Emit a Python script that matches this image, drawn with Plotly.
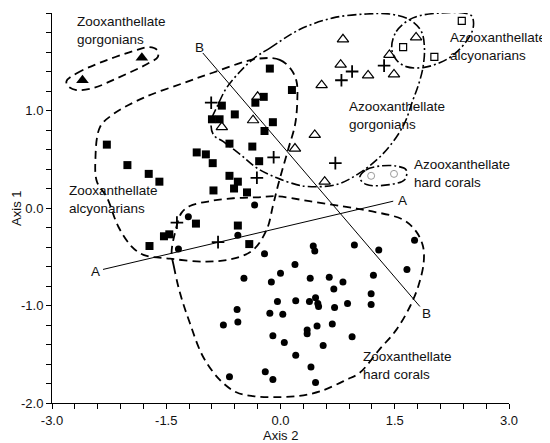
import plotly.graph_objects as go

# --- sample scores (Axis 2 = x, Axis 1 = y) ---
zg_x = [-2.60, -1.82]                      # zooxanthellate gorgonians
zg_y = [1.31, 1.54]

za_x = [-0.14, 0.15, -0.22, -0.33, -0.77, -0.60, -0.90, -0.80, -0.10, -0.21,
        -1.10, -0.98, -0.89, -0.67, -0.37, -0.28, -0.67, -0.56, -0.61, -0.88,
        -0.44, -2.28, -2.01, -1.73, -1.59, -1.72, -1.53, -1.46, -1.11, -0.56,
        -0.41]                             # zooxanthellate alcyonarians
za_y = [1.43, 1.21, 1.14, 1.08, 1.05, 0.96, 0.91, 0.91, 0.88, 0.79,
        0.57, 0.55, 0.46, 0.66, 0.63, 0.48, 0.33, 0.27, 0.20, 0.18,
        0.16, 0.65, 0.44, 0.35, 0.27, -0.39, -0.29, -0.27, -0.16, -0.18,
        -0.37]

zh_x = [-1.21, -1.34, -0.34, -0.56, -0.21, -0.48, -0.12, -0.04, -0.57, -0.14,
        -0.75, -0.56, -0.10, -0.67, -0.20, -0.10, 0.43, 0.45, 0.97, 1.29,
        1.76, 0.19, 0.00, 0.39, 0.64, 0.82, 0.70, 1.22, 1.66, 1.19,
        0.20, 0.38, 0.46, 0.49, 0.50, 0.71, 0.88, 1.19, 0.03, 0.35,
        0.35, 0.48, 0.68, 0.94, 0.05, 0.56, 0.20, 0.40, 0.46]   # zooxanthellate hard corals
zh_y = [-0.09, -0.42, 0.03, -0.28, -0.47, -0.72, -0.76, -0.96, -1.04, -1.08,
        -1.20, -1.17, -1.31, -1.73, -1.68, -1.76, -0.39, -0.44, -0.38, -0.43,
        -0.33, -0.58, -0.67, -0.72, -0.71, -0.76, -0.83, -0.69, -0.63, -0.88,
        -0.95, -0.96, -0.92, -0.98, -1.01, -1.02, -0.98, -0.99, -1.09, -1.25,
        -1.29, -1.21, -1.19, -1.32, -1.38, -1.41, -1.51, -1.63, -1.79]

ag_x = [0.82, 1.78, 1.43, 0.79, 1.15, 1.49, 0.54, -0.30, -0.36, -0.77,
        0.45, 0.19, 0.58]                  # azooxanthellate gorgonians
ag_y = [1.73, 1.75, 1.57, 1.47, 1.36, 1.37, 1.26, 1.14, 0.90, 0.83,
        0.75, 0.61, 0.27]

aa_x = [2.38, 1.61, 2.02]                  # azooxanthellate alcyonarians
aa_y = [1.92, 1.65, 1.55]

ah_x = [1.19, 1.49]                        # azooxanthellate hard corals
ah_y = [0.33, 0.35]

plus_x = [0.94, 1.36, 0.80, -0.91, -0.09, -0.31, 0.72, -1.36, -0.82]
plus_y = [1.40, 1.46, 1.31, 1.08, 0.52, 0.31, 0.46, -0.15, -0.35]

# gradient lines A and B
a_x = [-2.33, 1.48]
a_y = [-0.63, 0.07]
b_x = [-1.02, 1.83]
b_y = [1.59, -1.01]

# group outlines
hull_zg = [(-2.81, 1.30), (-2.68, 1.38), (-2.37, 1.49), (-1.93, 1.61), (-1.72, 1.65),
           (-1.62, 1.62), (-1.61, 1.55), (-1.72, 1.49), (-2.15, 1.33), (-2.46, 1.23),
           (-2.68, 1.21), (-2.79, 1.25)]
hull_za = [(-0.31, 1.53), (-0.01, 1.52), (0.14, 1.42), (0.21, 1.30), (0.22, 1.09),
           (0.19, 0.85), (0.10, 0.60), (-0.03, 0.24), (-0.10, 0.02), (-0.18, -0.22),
           (-0.36, -0.43), (-0.62, -0.52), (-0.97, -0.55), (-1.45, -0.52), (-1.80, -0.48),
           (-1.96, -0.39), (-2.13, -0.19), (-2.28, 0.11), (-2.41, 0.27), (-2.43, 0.50),
           (-2.37, 0.83), (-2.20, 0.96), (-1.80, 1.13), (-1.28, 1.28), (-0.88, 1.39)]
hull_zh = [(-1.43, -0.46), (-1.40, -0.60), (-1.32, -0.87), (-1.19, -1.18), (-1.02, -1.52),
           (-0.80, -1.76), (-0.58, -1.89), (-0.36, -1.93), (-0.10, -1.94), (0.21, -1.93),
           (0.52, -1.88), (0.87, -1.76), (1.04, -1.69), (1.30, -1.45), (1.52, -1.25),
           (1.70, -1.01), (1.81, -0.80), (1.88, -0.56), (1.87, -0.39), (1.78, -0.24),
           (1.61, -0.12), (1.17, -0.03), (0.95, 0.00), (0.38, 0.07), (-0.05, 0.12),
           (-0.31, 0.11), (-0.62, 0.10), (-0.93, 0.07), (-1.19, 0.02), (-1.30, -0.05),
           (-1.39, -0.27)]
hull_ag = [(-0.34, 1.54), (-0.14, 1.64), (0.25, 1.83), (0.69, 1.95), (1.13, 1.99),
           (1.43, 1.99), (1.70, 1.93), (1.85, 1.81), (1.89, 1.64), (1.87, 1.44),
           (1.81, 1.26), (1.74, 1.11), (1.61, 0.84), (1.35, 0.56), (1.04, 0.36),
           (0.73, 0.24), (0.36, 0.22), (0.21, 0.24), (-0.05, 0.31), (-0.31, 0.41),
           (-0.53, 0.55), (-0.75, 0.68), (-0.88, 0.75), (-0.91, 0.89), (-0.82, 1.06),
           (-0.71, 1.23), (-0.53, 1.40)]
hull_aa = [(1.46, 1.64), (1.52, 1.81), (1.74, 1.95), (2.09, 2.0), (2.40, 2.0),
           (2.51, 1.97), (2.53, 1.85), (2.44, 1.71), (2.27, 1.57), (2.09, 1.49),
           (1.87, 1.44), (1.65, 1.45), (1.52, 1.52)]
hull_ah = [(1.04, 0.31), (1.12, 0.39), (1.30, 0.43), (1.52, 0.43), (1.65, 0.39),
           (1.63, 0.29), (1.43, 0.24), (1.13, 0.24)]

labels = ["Zooxanthellate<br>gorgonians", "Zooxanthellate<br>alcyonarians",
          "Azooxanthellate<br>gorgonians", "Azooxanthellate<br>alcyonarians",
          "Azooxanthellate<br>hard corals", "Zooxanthellate<br>hard corals"]
label_x = [-2.70, -2.80, 0.87, 2.20, 1.72, 1.06]
label_y = [1.82, 0.085, 0.95, 1.66, 0.35, -1.62]

x_ticks = [-3.0, -1.5, 0.0, 1.5, 3.0]
x_ticktext = ["-3.0", "-1.5", "0.0", "1.5", "3.0"]
y_ticks = [-2.0, -1.0, 0.0, 1.0, 2.0]
y_ticktext = ["-2.0", "-1.0", "0.0", "1.0", "2.0"]

fig = go.Figure()

def add_hull(pts, dash, width):
    xs = [p[0] for p in pts] + [pts[0][0]]
    ys = [p[1] for p in pts] + [pts[0][1]]
    fig.add_trace(go.Scatter(x=xs, y=ys, mode="lines",
                             line=dict(color="black", width=width, dash=dash,
                                       shape="spline", smoothing=1.0),
                             hoverinfo="skip"))

dashed = "8px,5px"
dashdot = "9px,3px,2px,3px"
add_hull(hull_zg, dashed, 1.8)
add_hull(hull_za, dashed, 1.8)
add_hull(hull_zh, dashed, 1.8)
add_hull(hull_ag, dashdot, 1.6)
add_hull(hull_aa, dashdot, 1.6)
add_hull(hull_ah, dashdot, 1.6)

# lines A and B
for lx, ly in [(a_x, a_y), (b_x, b_y)]:
    fig.add_trace(go.Scatter(x=lx, y=ly, mode="lines",
                             line=dict(color="black", width=1)))

def add_pts(x, y, symbol, size, color="black", lw=0, lcolor="black"):
    fig.add_trace(go.Scatter(x=x, y=y, mode="markers",
                             marker=dict(symbol=symbol, size=size, color=color,
                                         line=dict(width=lw, color=lcolor))))

add_pts(zh_x, zh_y, "circle", 7)
add_pts(za_x, za_y, "square", 8)
add_pts(zg_x, zg_y, "triangle-up", 11)
add_pts(ag_x, ag_y, "triangle-up-open", 10, lw=1.2)
add_pts(aa_x, aa_y, "square-open", 7, lw=1.2)
add_pts(ah_x, ah_y, "circle-open", 7, color="#9a9a9a", lw=1, lcolor="#9a9a9a")
add_pts(plus_x, plus_y, "cross-thin", 9, lw=1.8)

for t, lx, ly in zip(labels, label_x, label_y):
    fig.add_annotation(x=lx, y=ly, text=t, showarrow=False, xanchor="left",
                       yanchor="middle", align="left",
                       font=dict(size=13.5, color="#111"))

# A / B end labels
for t, lx, ly in [("A", -2.43, -0.65), ("A", 1.60, 0.08),
                  ("B", -1.06, 1.65), ("B", 1.92, -1.08)]:
    fig.add_annotation(x=lx, y=ly, text=t, showarrow=False,
                       font=dict(size=13.5, color="#111"))

# axis titles placed as paper annotations to sit tight to the tick labels
fig.add_annotation(x=0.5, y=-0.083, xref="paper", yref="paper", text="Axis 2",
                   showarrow=False, yanchor="middle", font=dict(size=13, color="#111"))
fig.add_annotation(x=-0.079, y=0.5, xref="paper", yref="paper", text="Axis 1",
                   showarrow=False, textangle=-90, xanchor="center",
                   font=dict(size=13, color="#111"))

# the page body adds an 8px margin, so the figure is 8px smaller than the window
fig.update_layout(
    width=542, height=435,
    margin=dict(l=44, r=41, t=5, b=40),
    paper_bgcolor="white", plot_bgcolor="white",
    showlegend=False,
    font=dict(family="Liberation Sans, Arial, sans-serif", color="#111"),
)
fig.update_xaxes(range=[-3, 3], tickvals=x_ticks, ticktext=x_ticktext,
                 showgrid=False, zeroline=False, showline=True, linecolor="black",
                 linewidth=1, ticks="outside", ticklen=5, tickcolor="black",
                 minor=dict(dtick=0.3, tick0=0, ticks="outside", ticklen=5,
                            tickcolor="black", showgrid=False),
                 tickfont=dict(size=13), automargin=False)
fig.update_yaxes(range=[-2, 2], tickvals=y_ticks, ticktext=y_ticktext,
                 showgrid=False, zeroline=False, showline=True, linecolor="black",
                 linewidth=1, ticks="outside", ticklen=5, tickcolor="black",
                 minor=dict(dtick=0.2, tick0=0, ticks="outside", ticklen=5,
                            tickcolor="black", showgrid=False),
                 tickfont=dict(size=13), automargin=False)

fig.write_html("out.html")
